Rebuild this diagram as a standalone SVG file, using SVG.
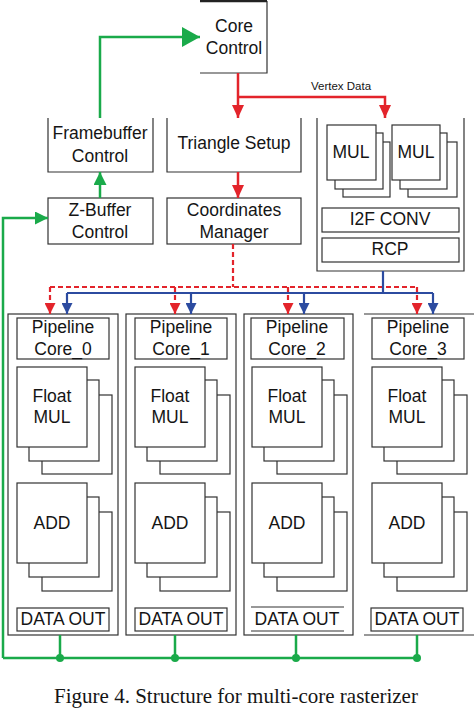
<svg xmlns="http://www.w3.org/2000/svg" width="474" height="708" viewBox="0 0 474 708">
<style>
.box{fill:#fff;stroke:#333;stroke-width:1.2}
.ln{fill:none;stroke:#333;stroke-width:1.2}
.t{font-family:"Liberation Sans",Arial,sans-serif;font-size:17.5px;fill:#151515;text-anchor:middle}
.small{font-size:11.5px}
.cap{font-family:"Liberation Serif","Times New Roman",serif;font-size:21px;fill:#151515;text-anchor:middle}
.g{fill:none;stroke:#1aaa4a;stroke-width:2.5}
.r{fill:none;stroke:#e3242b;stroke-width:2.5}
.rd{fill:none;stroke:#e3242b;stroke-width:2.2;stroke-dasharray:5 3}
.b{fill:none;stroke:#2c4ba0;stroke-width:2.2}
</style>
<defs>
<marker id="gBig" markerUnits="userSpaceOnUse" markerWidth="18" markerHeight="20" refX="18" refY="10" orient="auto"><path d="M0,0 L18,10 L0,20 z" fill="#1aaa4a"/></marker>
<marker id="gA" markerUnits="userSpaceOnUse" markerWidth="13" markerHeight="13" refX="13" refY="6.5" orient="auto"><path d="M0,0 L13,6.5 L0,13 z" fill="#1aaa4a"/></marker>
<marker id="rA" markerUnits="userSpaceOnUse" markerWidth="13" markerHeight="12" refX="13" refY="6" orient="auto"><path d="M0,0 L13,6 L0,12 z" fill="#e3242b"/></marker>
<marker id="rS" markerUnits="userSpaceOnUse" markerWidth="11" markerHeight="11" refX="11" refY="5.5" orient="auto"><path d="M0,0 L11,5.5 L0,11 z" fill="#e3242b"/></marker>
<marker id="bS" markerUnits="userSpaceOnUse" markerWidth="11" markerHeight="11" refX="11" refY="5.5" orient="auto"><path d="M0,0 L11,5.5 L0,11 z" fill="#2c4ba0"/></marker>
</defs>
<rect width="474" height="708" fill="#fff"/>

<g id="core-control">
<path class="ln" d="M200,73 H267 V1"/>
<line x1="200" y1="1" x2="267" y2="1" stroke="#222" stroke-width="2.5"/>
<text class="t" x="234" y="32">Core</text>
<text class="t" x="234" y="54">Control</text>
</g>

<g id="framebuffer-control">
<path class="ln" d="M48,118 V172 H153 V118"/>
<text class="t" x="100" y="139">Framebuffer</text>
<text class="t" x="100" y="162">Control</text>
</g>

<g id="triangle-setup">
<path class="ln" d="M167,118 V172 H301 V118"/>
<text class="t" x="234" y="149">Triangle Setup</text>
</g>

<g id="zbuffer-control">
<rect class="box" x="48" y="198" width="105" height="46"/>
<text class="t" x="100" y="216">Z-Buffer</text>
<text class="t" x="100" y="238">Control</text>
</g>

<g id="coordinates-manager">
<rect class="box" x="167" y="198" width="134" height="46"/>
<text class="t" x="234" y="216">Coordinates</text>
<text class="t" x="234" y="238">Manager</text>
</g>

<g id="vertex-unit">
<path class="ln" d="M317,118 V271 H464 V118"/>
<rect class="box" x="343" y="142" width="47" height="55"/>
<rect class="box" x="335" y="133" width="48" height="56"/>
<rect class="box" x="327" y="125" width="49" height="55"/>
<text class="t" x="351" y="158">MUL</text>
<rect class="box" x="408" y="142" width="49" height="55"/>
<rect class="box" x="400" y="133" width="47" height="56"/>
<rect class="box" x="392" y="125" width="48" height="55"/>
<text class="t" x="416" y="158">MUL</text>
<rect class="box" x="322" y="208" width="137" height="24"/>
<text class="t" x="390" y="225">I2F CONV</text>
<rect class="box" x="322" y="238" width="137" height="24"/>
<text class="t" x="390" y="255">RCP</text>
</g>

<g id="pipeline-core-0">
<rect class="box" x="8" y="314" width="110" height="321"/>
<rect class="box" x="17" y="318" width="92" height="41"/>
<text class="t" x="63" y="333">Pipeline</text>
<text class="t" x="63" y="355">Core_0</text>
<rect class="box" x="42" y="395" width="70" height="79"/>
<rect class="box" x="29" y="380" width="70" height="81"/>
<rect class="box" x="17" y="367" width="70" height="80"/>
<text class="t" x="52" y="402">Float</text>
<text class="t" x="52" y="423">MUL</text>
<rect class="box" x="42" y="512" width="70" height="79"/>
<rect class="box" x="29" y="497" width="70" height="80"/>
<rect class="box" x="17" y="483" width="70" height="80"/>
<text class="t" x="52" y="529">ADD</text>
<rect class="box" x="17" y="608" width="92" height="23"/>
<text class="t" x="63" y="625">DATA OUT</text>
</g>

<g id="pipeline-core-1">
<rect class="box" x="126" y="314" width="110" height="321"/>
<rect class="box" x="135" y="318" width="92" height="41"/>
<text class="t" x="181" y="333">Pipeline</text>
<text class="t" x="181" y="355">Core_1</text>
<rect class="box" x="160" y="395" width="70" height="79"/>
<rect class="box" x="147" y="380" width="70" height="81"/>
<rect class="box" x="135" y="367" width="70" height="80"/>
<text class="t" x="170" y="402">Float</text>
<text class="t" x="170" y="423">MUL</text>
<rect class="box" x="160" y="512" width="70" height="79"/>
<rect class="box" x="147" y="497" width="70" height="80"/>
<rect class="box" x="135" y="483" width="70" height="80"/>
<text class="t" x="170" y="529">ADD</text>
<rect class="box" x="135" y="608" width="92" height="23"/>
<text class="t" x="181" y="625">DATA OUT</text>
</g>

<g id="pipeline-core-2">
<rect class="box" x="244" y="314" width="109" height="321"/>
<rect class="box" x="251" y="318" width="93" height="41"/>
<text class="t" x="297" y="333">Pipeline</text>
<text class="t" x="297" y="355">Core_2</text>
<rect class="box" x="277" y="395" width="70" height="79"/>
<rect class="box" x="264" y="380" width="70" height="81"/>
<rect class="box" x="252" y="367" width="70" height="80"/>
<text class="t" x="287" y="402">Float</text>
<text class="t" x="287" y="423">MUL</text>
<rect class="box" x="277" y="512" width="70" height="79"/>
<rect class="box" x="264" y="497" width="70" height="80"/>
<rect class="box" x="252" y="483" width="70" height="80"/>
<text class="t" x="287" y="529">ADD</text>
<line class="ln" x1="251" y1="607" x2="344" y2="607"/>
<line class="ln" x1="251" y1="631" x2="344" y2="631"/>
<text class="t" x="297" y="625">DATA OUT</text>
</g>

<g id="pipeline-core-3">
<line class="ln" x1="364" y1="314" x2="474" y2="314"/>
<line class="ln" x1="364" y1="635" x2="474" y2="635"/>
<rect class="box" x="372" y="318" width="92" height="41"/>
<text class="t" x="418" y="333">Pipeline</text>
<text class="t" x="418" y="355">Core_3</text>
<rect class="box" x="397" y="395" width="70" height="79"/>
<rect class="box" x="384" y="380" width="70" height="81"/>
<rect class="box" x="372" y="367" width="70" height="80"/>
<text class="t" x="407" y="402">Float</text>
<text class="t" x="407" y="423">MUL</text>
<rect class="box" x="397" y="512" width="70" height="79"/>
<rect class="box" x="384" y="497" width="70" height="80"/>
<rect class="box" x="372" y="483" width="70" height="80"/>
<text class="t" x="407" y="529">ADD</text>
<rect class="box" x="371" y="608" width="92" height="23"/>
<text class="t" x="417" y="625">DATA OUT</text>
</g>

<g id="connectors">
<path class="g" d="M100,118 V37 H200" marker-end="url(#gBig)"/>
<path class="g" d="M100,198 V172" marker-end="url(#gA)"/>
<path class="g" d="M3,658 V218 H48" marker-end="url(#gA)"/>
<path class="g" d="M3,658 H417"/>
<path class="g" d="M60,635 V658 M175,635 V658 M296,635 V658 M417,635 V658"/>
<g fill="#1aaa4a"><circle cx="60" cy="658" r="4"/><circle cx="175" cy="658" r="4"/><circle cx="296" cy="658" r="4"/><circle cx="417" cy="658" r="4"/></g>
<path class="r" d="M238,73 V118" marker-end="url(#rA)"/>
<path class="r" d="M238,97 H385 V118" marker-end="url(#rA)"/>
<text class="t small" x="341" y="90">Vertex Data</text>
<path class="r" d="M238,172 V198" marker-end="url(#rA)"/>
<path class="rd" d="M233,244 V287 M50,287 H417"/>
<path class="rd" d="M50,287 V314" marker-end="url(#rS)"/>
<path class="rd" d="M175,287 V314" marker-end="url(#rS)"/>
<path class="rd" d="M288,287 V314" marker-end="url(#rS)"/>
<path class="rd" d="M417,287 V314" marker-end="url(#rS)"/>
<path class="b" d="M383,271 V293 M67,293 H433"/>
<path class="b" d="M67,293 V314" marker-end="url(#bS)"/>
<path class="b" d="M191,293 V314" marker-end="url(#bS)"/>
<path class="b" d="M304,293 V314" marker-end="url(#bS)"/>
<path class="b" d="M433,293 V314" marker-end="url(#bS)"/>
</g>

<text class="cap" x="236" y="703">Figure 4. Structure for multi-core rasterizer</text>
</svg>
